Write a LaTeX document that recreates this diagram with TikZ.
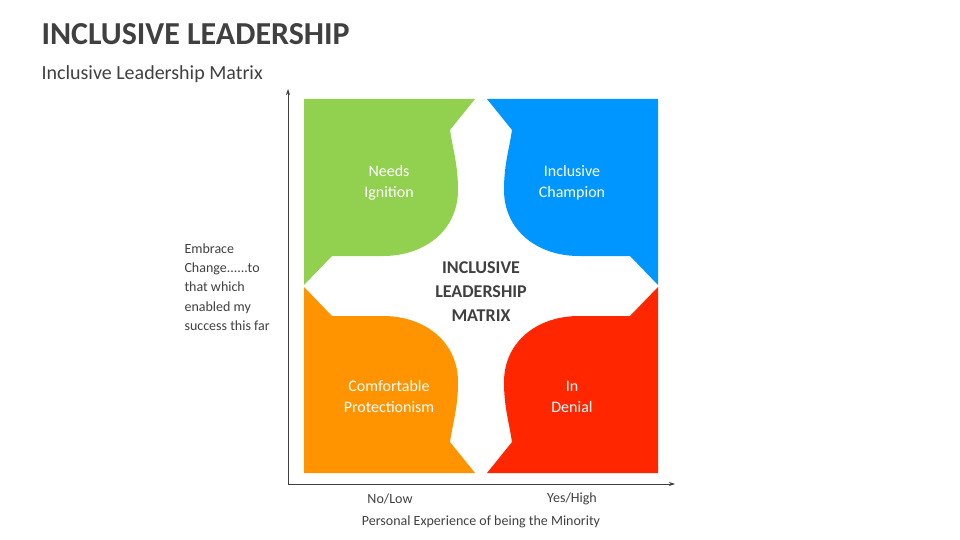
\documentclass[tikz,border=0pt]{standalone}
\usepackage{fontspec}
\setmainfont{Carlito}
\usetikzlibrary{arrows.meta}
\definecolor{tgray}{HTML}{404040}
\definecolor{qgreen}{HTML}{92D050}
\definecolor{qblue}{HTML}{0096FF}
\definecolor{qorange}{HTML}{FF9300}
\definecolor{qred}{HTML}{FF2600}
\tikzset{
  petal/.pic={\fill[pic actions] (-177,-187) -- (-6,-187) -- (-31,-156) .. controls (-28,-136) and (-23,-121) .. (-23,-96) .. controls (-23,-56) and (-56,-30) .. (-98,-30) -- (-149,-30) -- (-177,-1) -- cycle;},
  qlabel/.style={text=white,align=center,font=\fontsize{16}{21}\selectfont},
  axis/.style={draw=tgray,line width=0.8pt,-{Stealth[length=6pt,width=4pt]}},
  small/.style={text=tgray,font=\fontsize{14}{19}\selectfont}
}
\begin{document}
\begin{tikzpicture}[x=1pt,y=-1pt]
\useasboundingbox (0,0) rectangle (960,540);
\node[anchor=west,text=tgray,font=\fontsize{32}{36}\selectfont\bfseries] (title) at (38,34) {INCLUSIVE LEADERSHIP};
\node[anchor=west,text=tgray,font=\fontsize{20}{24}\selectfont] (sub) at (38,74) {Inclusive Leadership Matrix};
\begin{scope}[shift={(481,286)}]
\pic[fill=qgreen] {petal};
\pic[fill=qblue,xscale=-1] {petal};
\pic[fill=qorange,yscale=-1] {petal};
\pic[fill=qred,xscale=-1,yscale=-1] {petal};
\end{scope}
\coordinate (o) at (288,484);
\coordinate (ytop) at (288,89);
\coordinate (xend) at (675,484);
\draw[axis] (o) -- (ytop);
\draw[axis] (o) -- (xend);
\node[qlabel] (q1) at (389,183) {Needs\\Ignition};
\node[qlabel] (q2) at (572,183) {Inclusive\\Champion};
\node[qlabel] (q3) at (389,397) {Comfortable\\Protectionism};
\node[qlabel] (q4) at (572,397) {In\\Denial};
\node[align=center,text=tgray,font=\fontsize{18}{24}\selectfont\bfseries] (c) at (481,292) {INCLUSIVE\\LEADERSHIP\\MATRIX};
\node[small,anchor=west,align=left,font=\fontsize{14}{19.3}\selectfont] (yl) at (181,287) {Embrace\\Change......to\\that which\\enabled my\\success this far};
\node[small] (xl1) at (390,499) {No/Low};
\node[small] (xl2) at (572,499) {Yes/High};
\node[small] (xl) at (481,522) {Personal Experience of being the Minority};
\end{tikzpicture}
\end{document}
